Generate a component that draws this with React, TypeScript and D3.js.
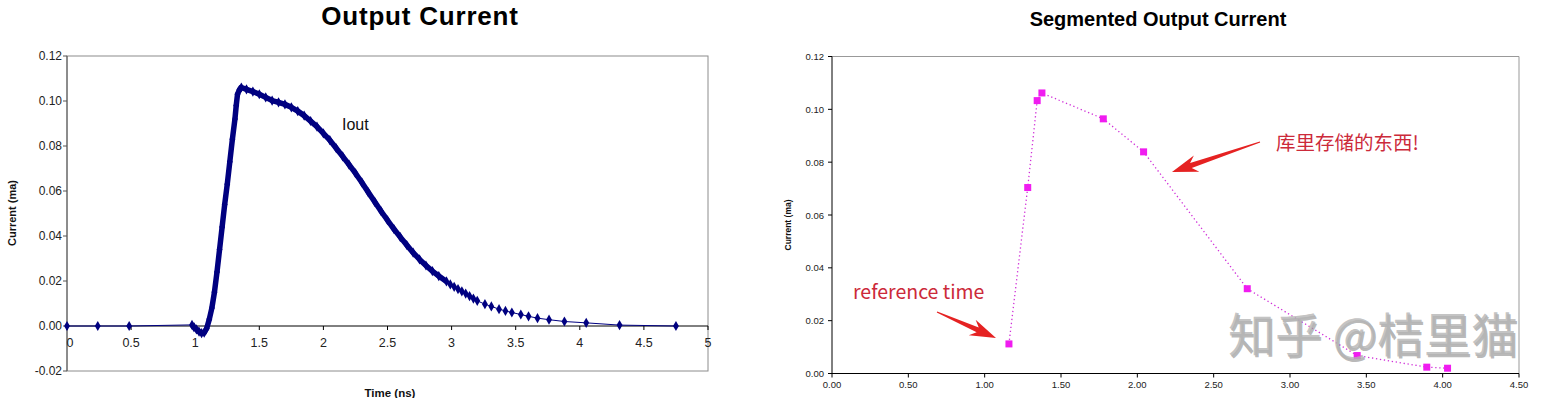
import React from 'react';
import * as d3 from 'd3';

// left chart: simulated output current (ns, mA)
const timeNs = [
  0, 0.24, 0.485, 0.975, 0.99, 1.01, 1.03, 1.05, 1.07, 1.09, 1.11, 1.13, 1.15, 1.17, 1.19, 1.21, 1.23,
  1.25, 1.27, 1.29, 1.31, 1.32, 1.33, 1.345, 1.36, 1.4, 1.45, 1.5, 1.55, 1.6, 1.65, 1.7, 1.75, 1.8,
  1.85, 1.9, 1.95, 2.0, 2.05, 2.1, 2.15, 2.2, 2.25, 2.3, 2.35, 2.4, 2.45, 2.5, 2.55, 2.6, 2.65, 2.7,
  2.75, 2.8, 2.85, 2.9, 2.96, 2.99, 3.02, 3.05, 3.08, 3.11, 3.14, 3.17, 3.2, 3.26, 3.31, 3.37, 3.42,
  3.47, 3.54, 3.6, 3.67, 3.76, 3.88, 4.05, 4.31, 4.75,
];
const currentMa = [
  0, 0, 0, 0.0005, -0.0005, -0.0015, -0.0025, -0.0032, -0.003, -0.001, 0.003, 0.008, 0.015, 0.024,
  0.034, 0.044, 0.054, 0.063, 0.073, 0.083, 0.092, 0.098, 0.103, 0.105, 0.106, 0.1052, 0.1042, 0.103,
  0.1016, 0.1002, 0.0994, 0.0985, 0.0972, 0.0955, 0.0935, 0.0911, 0.0886, 0.0856, 0.0826, 0.079,
  0.0754, 0.0717, 0.0679, 0.0638, 0.0594, 0.0552, 0.051, 0.047, 0.0431, 0.0395, 0.036, 0.0326, 0.0296,
  0.0269, 0.0244, 0.0222, 0.0198, 0.0185, 0.0174, 0.0164, 0.0154, 0.0144, 0.0133, 0.0122, 0.0112,
  0.0097, 0.0087, 0.0075, 0.0067, 0.006, 0.0051, 0.0043, 0.0035, 0.0028, 0.002, 0.0014, 0.0004, 0,
];

// right chart: segmented samples
const segTime = [1.159, 1.282, 1.344, 1.375, 1.777, 2.041, 2.72, 3.44, 3.896, 4.032];
const segCurrent = [0.0112, 0.0704, 0.1033, 0.1062, 0.0964, 0.0839, 0.0321, 0.0068, 0.0024, 0.002];

const leftXTicks = [0, 0.5, 1, 1.5, 2, 2.5, 3, 3.5, 4, 4.5, 5];
const leftYTicks = [-0.02, 0, 0.02, 0.04, 0.06, 0.08, 0.1, 0.12];
const rightXTicks = [0, 0.5, 1, 1.5, 2, 2.5, 3, 3.5, 4, 4.5];
const rightYTicks = [0, 0.02, 0.04, 0.06, 0.08, 0.1, 0.12];

const FONT = 'Liberation Sans, Arial, sans-serif';
const CJK = 'Noto Sans CJK SC, sans-serif';

// tapered annotation arrow, tail -> tip
function arrowPath(x1: number, y1: number, x2: number, y2: number) {
  const dx = x2 - x1, dy = y2 - y1;
  const L = Math.hypot(dx, dy);
  const ux = dx / L, uy = dy / L;
  const nx = -uy, ny = ux;
  const head = 24, hw = 8.5, sw = 2.6;
  const p = (a: number, b: number) => [x1 + ux * a + nx * b, y1 + uy * a + ny * b];
  const pts = [p(0, 0.6), p(L - head + 4, sw), p(L - head - 2, hw), p(L, 0), p(L - head - 2, -hw), p(L - head + 4, -sw), p(0, -0.6)];
  return 'M' + pts.map((q) => q.join(',')).join('L') + 'Z';
}

export default function App() {
  const xL = d3.scaleLinear().domain([0, 5]).range([67, 708]);
  const yL = d3.scaleLinear().domain([-0.02, 0.12]).range([371, 56]);
  const xR = d3.scaleLinear().domain([0, 4.5]).range([832, 1519]);
  const yR = d3.scaleLinear().domain([0, 0.12]).range([373.5, 56.5]);

  const idx = d3.range(timeNs.length);
  const lineL = d3.line<number>().x((i) => xL(timeNs[i])).y((i) => yL(currentMa[i]));
  const segIdx = d3.range(segTime.length);
  const lineR = d3.line<number>().x((i) => xR(segTime[i])).y((i) => yR(segCurrent[i]));
  const diamond = d3.symbol().type(d3.symbolDiamond).size(30)()!;

  return (
    <svg width={1559} height={398} style={{ position: 'absolute', left: 0, top: 0, background: '#fff' }}>
      {/* ---------- left chart ---------- */}
      <text x={420} y={25} textAnchor="middle" fontFamily={FONT} fontWeight="bold" fontSize={26} letterSpacing={0.8} fill="#000">
        Output Current
      </text>
      <rect x={67} y={56} width={641} height={315} fill="none" stroke="#8c8c8c" strokeWidth={1} />
      <line x1={67} x2={67} y1={56} y2={371} stroke="#555" />
      {leftYTicks.map((t) => (
        <g key={t}>
          <line x1={63} x2={67} y1={yL(t)} y2={yL(t)} stroke="#555" />
          <text x={62} y={yL(t) + 4} textAnchor="end" fontFamily={FONT} fontSize={12} fill="#222">
            {t.toFixed(2)}
          </text>
        </g>
      ))}
      <line x1={67} x2={708} y1={yL(0)} y2={yL(0)} stroke="#000" />
      {leftXTicks.map((t) => (
        <g key={t}>
          <line x1={xL(t)} x2={xL(t)} y1={yL(0)} y2={yL(0) + 4} stroke="#000" />
          <text x={xL(t) + (t === 0 ? 3 : 0)} y={yL(0) + 21} textAnchor="middle" fontFamily={FONT} fontSize={12.5} fill="#222">
            {String(t)}
          </text>
        </g>
      ))}
      <text transform="translate(16,213) rotate(-90)" textAnchor="middle" fontFamily={FONT} fontWeight="bold" fontSize={11} fill="#111">
        Current (ma)
      </text>
      <text x={390} y={397} textAnchor="middle" fontFamily={FONT} fontWeight="bold" fontSize={11.5} fill="#111">
        Time (ns)
      </text>
      <path d={lineL(idx)!} fill="none" stroke="#000080" strokeWidth={1} />
      <path d={lineL(idx.slice(3, 57))!} fill="none" stroke="#000080" strokeWidth={5.5} strokeLinejoin="round" />
      {idx.map((i) => (
        <path key={i} d={diamond} transform={`translate(${xL(timeNs[i])},${yL(currentMa[i])})`} fill="#000080" />
      ))}
      <text x={342} y={130} fontFamily={FONT} fontSize={16} fill="#111">
        Iout
      </text>

      {/* ---------- right chart ---------- */}
      <text x={1158} y={26} textAnchor="middle" fontFamily={FONT} fontWeight="bold" fontSize={20} fill="#000">
        Segmented Output Current
      </text>
      <line x1={832} x2={1519} y1={56.5} y2={56.5} stroke="#999" />
      <line x1={1519} x2={1519} y1={56.5} y2={373.5} stroke="#999" />
      <line x1={832} x2={832} y1={56.5} y2={373.5} stroke="#000" />
      <line x1={832} x2={1519} y1={373.5} y2={373.5} stroke="#000" />
      {rightYTicks.map((t) => (
        <g key={t}>
          <line x1={828} x2={832} y1={yR(t)} y2={yR(t)} stroke="#000" />
          <text x={824} y={yR(t) + 3.5} textAnchor="end" fontFamily={FONT} fontSize={9.5} fill="#222">
            {t.toFixed(2)}
          </text>
        </g>
      ))}
      {rightXTicks.map((t) => (
        <g key={t}>
          <line x1={xR(t)} x2={xR(t)} y1={373.5} y2={377.5} stroke="#000" />
          <text x={xR(t)} y={388} textAnchor="middle" fontFamily={FONT} fontSize={9.5} fill="#222">
            {t.toFixed(2)}
          </text>
        </g>
      ))}
      <text transform="translate(791,225) rotate(-90)" textAnchor="middle" fontFamily={FONT} fontWeight="bold" fontSize={8.5} fill="#111">
        Current (ma)
      </text>
      <path d={lineR(segIdx)!} fill="none" stroke="#d030d8" strokeWidth={1.3} strokeDasharray="1.3,2.7" />
      {segIdx.map((i) => (
        <rect key={i} x={xR(segTime[i]) - 3.5} y={yR(segCurrent[i]) - 3.5} width={7} height={7} fill="#f01cf0" />
      ))}

      {/* watermark */}
      <text x={1229.5} y={353.5} fontFamily={CJK} fontSize={47} fill="#8a8a8a" fillOpacity={0.6}>
        知乎 @桔里猫
      </text>
      <text x={1228} y={352} fontFamily={CJK} fontSize={47} fill="#b4b4b4" fillOpacity={0.8}>
        知乎 @桔里猫
      </text>

      {/* annotations */}
      <text x={853} y={299} fontFamily={CJK} fontSize={19.5} fill="#cc2a3a">
        reference time
      </text>
      <path d={arrowPath(937, 312, 996, 338)} fill="#e52222" />
      <text x={1276} y={150} fontFamily={CJK} fontSize={19.5} fill="#cc2a3a">
        库里存储的东西!
      </text>
      <path d={arrowPath(1260, 142, 1172, 172)} fill="#e52222" />
    </svg>
  );
}
